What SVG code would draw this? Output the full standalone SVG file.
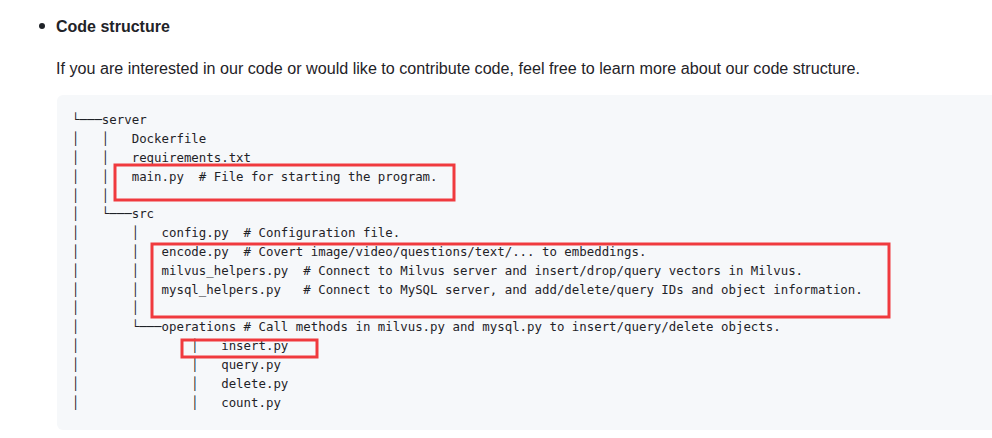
<svg xmlns="http://www.w3.org/2000/svg" width="992" height="438" viewBox="0 0 992 438">
<style>
.t{font-family:"Liberation Sans","Open Sans",sans-serif;font-size:16px;fill:#1f2328}
.c{font-family:"DejaVu Sans Mono","Liberation Mono",monospace;font-size:12.4px;fill:#1f2328;white-space:pre}
.r{fill:none;stroke:#f03a3e;stroke-width:3}
</style>
<rect width="992" height="438" fill="#fff"/>
<circle cx="42" cy="26" r="3" fill="#1f2328"/>
<text class="t" x="56" y="32" font-weight="bold">Code structure</text>
<text class="t" x="56" y="74" textLength="804" lengthAdjust="spacingAndGlyphs">If you are interested in our code or would like to contribute code, feel free to learn more about our code structure.</text>
<rect x="57" y="95" width="945" height="335" rx="6" fill="#f6f8fa"/>
<g xml:space="preserve">
<text class="c" x="72" y="124">└───server</text>
<text class="c" x="72" y="143">│   │   Dockerfile</text>
<text class="c" x="72" y="162">│   │   requirements.txt</text>
<text class="c" x="72" y="181">│   │   main.py  # File for starting the program.</text>
<text class="c" x="72" y="200">│   │</text>
<text class="c" x="72" y="218">│   └───src</text>
<text class="c" x="72" y="237">│       │   config.py  # Configuration file.</text>
<text class="c" x="72" y="256">│       │   encode.py  # Covert image/video/questions/text/... to embeddings.</text>
<text class="c" x="72" y="275">│       │   milvus_helpers.py  # Connect to Milvus server and insert/drop/query vectors in Milvus.</text>
<text class="c" x="72" y="294">│       │   mysql_helpers.py   # Connect to MySQL server, and add/delete/query IDs and object information.</text>
<text class="c" x="72" y="312">│       │</text>
<text class="c" x="72" y="331">│       └───operations # Call methods in milvus.py and mysql.py to insert/query/delete objects.</text>
<text class="c" x="72" y="350">│               │   insert.py</text>
<text class="c" x="72" y="369">│               │   query.py</text>
<text class="c" x="72" y="388">│               │   delete.py</text>
<text class="c" x="72" y="407">│               │   count.py</text>
</g>
<rect class="r" x="115" y="165" width="339" height="35"/>
<rect class="r" x="152" y="244" width="737" height="73"/>
<rect class="r" x="182" y="340" width="135" height="17"/>
</svg>
